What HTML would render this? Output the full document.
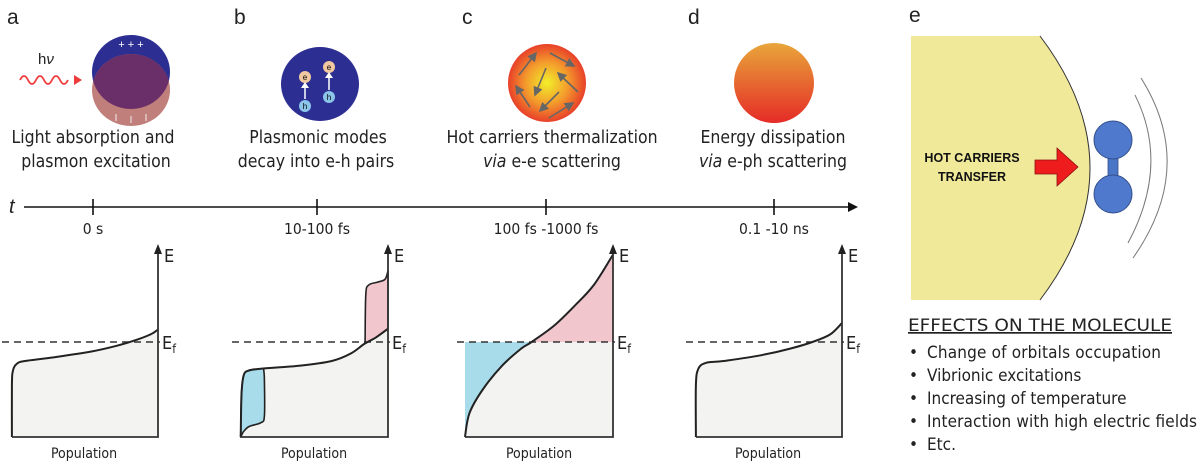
<!DOCTYPE html>
<html><head><meta charset="utf-8">
<style>
html,body{margin:0;padding:0;background:#fff;}
svg{display:block;font-family:"Liberation Sans",sans-serif;}
.lbl{font-size:21px;fill:#222;}
.cap{font-size:17.5px;fill:#222;text-anchor:middle;font-family:"DejaVu Sans Condensed","Liberation Sans",sans-serif;}
.tk{font-size:15.5px;fill:#222;text-anchor:middle;font-family:"DejaVu Sans Condensed","Liberation Sans",sans-serif;}
.pop{font-size:14px;fill:#222;text-anchor:middle;font-family:"DejaVu Sans Condensed","Liberation Sans",sans-serif;}
.ax{font-size:18px;fill:#222;font-family:"DejaVu Sans Condensed","Liberation Sans",sans-serif;}
.eff{font-size:17px;fill:#222;font-family:"DejaVu Sans Condensed","Liberation Sans",sans-serif;}
</style></head>
<body>
<svg id="fig" width="1200" height="464" viewBox="0 0 1200 464" xmlns="http://www.w3.org/2000/svg">
<defs>
 <radialGradient id="gc" cx="0.5" cy="0.5" r="0.5"><stop offset="0" stop-color="#f2ef2a"/><stop offset="0.55" stop-color="#f39a2c"/><stop offset="1" stop-color="#e8402a"/></radialGradient>
 <linearGradient id="gd" x1="0" y1="0" x2="0" y2="1"><stop offset="0" stop-color="#e8a63a"/><stop offset="1" stop-color="#e52b27"/></linearGradient>
 <clipPath id="blueclip"><ellipse cx="131" cy="72" rx="39" ry="37"/></clipPath>
 <marker id="ga" markerWidth="6" markerHeight="6" refX="5" refY="3" orient="auto"><path d="M0,0 L6,3 L0,6 z" fill="#666"/></marker>
</defs>

<text class="lbl" x="7" y="24">a</text>
<text class="lbl" x="234" y="24">b</text>
<text class="lbl" x="462" y="24">c</text>
<text class="lbl" x="688" y="24">d</text>
<text class="lbl" x="909" y="22">e</text>

<g>
 <text x="38" y="64" font-size="15" fill="#222">h<tspan font-style="italic">ν</tspan></text>
 <path d="M20,80 q4,-8 8,0 t8,0 t8,0 t8,0 t8,0 t8,0" fill="none" stroke="#ee3b3b" stroke-width="1.8"/>
 <path d="M74,75 L82,80 L74,85" fill="#ee3b3b"/>
 <ellipse cx="131" cy="72" rx="39" ry="37" fill="#2c2f91"/>
 <ellipse cx="131" cy="90" rx="39" ry="36" fill="#c07f7b"/>
 <ellipse cx="131" cy="90" rx="39" ry="36" fill="#6a2f68" clip-path="url(#blueclip)"/>
 <text x="131" y="48" font-size="11" fill="#fff" text-anchor="middle">+  +  +</text>
 <path d="M116,114v7M131,116v7M146,114v7" stroke="#eee" stroke-width="1"/>
</g>
<text class="cap" x="93" y="143">Light absorption and</text>
<text class="cap" x="96" y="167">plasmon excitation</text>

<g>
 <ellipse cx="320" cy="84" rx="39" ry="37" fill="#2c2f91"/>
 <circle cx="305" cy="77" r="6" fill="#f1c8a0"/><text x="305" y="80" font-size="8" text-anchor="middle">e</text>
 <circle cx="329" cy="67" r="6" fill="#f1c8a0"/><text x="329" y="70" font-size="8" text-anchor="middle">e</text>
 <circle cx="305" cy="106" r="6" fill="#8cc4ea"/><text x="305" y="109" font-size="8" text-anchor="middle">h</text>
 <circle cx="329" cy="97" r="6" fill="#8cc4ea"/><text x="329" y="100" font-size="8" text-anchor="middle">h</text>
 <path d="M305,99V86M329,90V76" stroke="#fff" stroke-width="1.5"/>
 <path d="M301,88l4,-6l4,6zM325,78l4,-6l4,6z" fill="#fff"/>
</g>
<text class="cap" x="318" y="143">Plasmonic modes</text>
<text class="cap" x="316" y="167">decay into e-h pairs</text>

<g stroke="#666" stroke-width="1.6" marker-end="url(#ga)">
 <circle cx="547" cy="83" r="39" fill="url(#gc)" stroke="none" marker-end="none"/>
 <path d="M519,75 L536,53"/><path d="M550,53 L574,66"/><path d="M578,92 L558,73"/>
 <path d="M546,68 L535,95"/><path d="M530,107 L516,86"/><path d="M559,92 L540,111"/>
 <path d="M549,118 L573,103"/>
</g>
<text class="cap" x="552" y="143">Hot carriers thermalization</text>
<text class="cap" x="552" y="167"><tspan font-style="italic">via</tspan> e-e scattering</text>

<ellipse cx="774" cy="83" rx="40" ry="40" fill="url(#gd)"/>
<text class="cap" x="773" y="143">Energy dissipation</text>
<text class="cap" x="773" y="167"><tspan font-style="italic">via</tspan> e-ph scattering</text>

<g>
 <text x="9" y="213" font-size="20" font-style="italic" fill="#222">t</text>
 <line x1="24" y1="207" x2="850" y2="207" stroke="#111" stroke-width="1.6"/>
 <path d="M848,202 L858,207 L848,212z" fill="#111"/>
</g>
<g id="ticks"></g>
<g id="plots"></g>

<g>
 <path d="M911,36 L1040,36 Q1140,168 1040,300 L911,300 Z" fill="#f0e99a"/>
 <path d="M1040,36 Q1140,168 1040,300" fill="none" stroke="#333" stroke-width="1"/>
 <text x="972" y="162" font-size="12.5" font-weight="bold" text-anchor="middle" fill="#111">HOT CARRIERS</text>
 <text x="972" y="181" font-size="12.5" font-weight="bold" text-anchor="middle" fill="#111">TRANSFER</text>
 <path d="M1035,160 H1057 V148 L1078,167 L1057,186 V174 H1035 Z" fill="#ee1c1c" stroke="#8a1010" stroke-width="0.8"/>
 <rect x="1108" y="140" width="10" height="55" fill="#4a76c8" stroke="#34508a" stroke-width="0.8"/>
 <ellipse cx="1113" cy="140" rx="19" ry="19" fill="#4f79cc" stroke="#34508a"/>
 <ellipse cx="1113" cy="194" rx="19" ry="19" fill="#4f79cc" stroke="#34508a"/>
 <path d="M1135,95 Q1170,165 1128,243" fill="none" stroke="#777" stroke-width="1"/>
 <path d="M1141,78 Q1197,167 1133,258" fill="none" stroke="#777" stroke-width="1"/>
</g>
<text class="eff" x="1040" y="331" text-anchor="middle" text-decoration="underline" font-size="21" textLength="264" lengthAdjust="spacingAndGlyphs">EFFECTS ON THE MOLECULE</text>
<g>
 <text class="eff" x="909" y="358">•</text><text class="eff" x="927" y="358" textLength="234">Change of orbitals occupation</text>
 <text class="eff" x="909" y="381">•</text><text class="eff" x="927" y="381">Vibrionic excitations</text>
 <text class="eff" x="909" y="404">•</text><text class="eff" x="927" y="404">Increasing of temperature</text>
 <text class="eff" x="909" y="427">•</text><text class="eff" x="927" y="427" textLength="270">Interaction with high electric fields</text>
 <text class="eff" x="909" y="450">•</text><text class="eff" x="927" y="450">Etc.</text>
</g>
</svg>
<script>
const tickLabels = ["0 s","10-100 fs","100 fs -1000 fs","0.1 -10 ns"];
const tickPos = [93,317,546,774];
const popA = [0.013,0.013,0.02,0.045,0.1,0.3,0.55,0.72,0.85,0.95,1.0];
const enA  = [-1,-0.45,-0.3,-0.23,-0.2,-0.16,-0.1,-0.04,0.02,0.08,0.13];
const popB = [0.005,0.01,0.025,0.06,0.15,0.4,0.62,0.75,0.84,0.92,1.0];
const enB  = [-1,-0.55,-0.35,-0.3,-0.28,-0.25,-0.2,-0.12,-0.02,0.05,0.14];
const holeEdgeB = [[0.16,-0.29],[0.165,-0.4],[0.165,-0.78],[0.14,-0.85],[0.06,-0.89],[0.02,-0.95]];
const elecEdgeB = [[0.845,0],[0.85,0.5],[0.87,0.6],[0.93,0.63],[0.98,0.66],[1.0,0.75]];
const popC = [0,0.03,0.12,0.25,0.38,0.45,0.6,0.74,0.87,1.0];
const enC  = [-1,-0.75,-0.5,-0.25,-0.07,0,0.17,0.38,0.6,0.92];
const popD = [0.013,0.013,0.03,0.08,0.2,0.45,0.65,0.8,0.92,1.0];
const enD  = [-1,-0.45,-0.28,-0.22,-0.2,-0.14,-0.07,0.0,0.08,0.2];

const NS="http://www.w3.org/2000/svg";
function mk(tag,attrs,parent){const e=document.createElementNS(NS,tag);for(const k in attrs)e.setAttribute(k,attrs[k]);parent.appendChild(e);return e;}
const ticks=document.getElementById('ticks');
tickLabels.forEach((t,i)=>{
  const l=mk('line',{x1:tickPos[i],x2:tickPos[i],y1:199,y2:215,stroke:'#111','stroke-width':1.6},ticks);
  
  
  const tx=mk('text',{x:tickPos[i],y:234,class:'tk'},ticks);tx.textContent=t;
  
  
});
const plots=document.getElementById('plots');
const BOT=437, EF=342, W=148;
function sy(e){return EF-e*95;}
function seg(pts){let d='';
  for(let i=0;i<pts.length-1;i++){const p0=pts[i-1]||pts[i],p1=pts[i],p2=pts[i+1],p3=pts[i+2]||p2;
    const c1=[p1[0]+(p2[0]-p0[0])/6,p1[1]+(p2[1]-p0[1])/6],c2=[p2[0]-(p3[0]-p1[0])/6,p2[1]-(p3[1]-p1[1])/6];
    d+=' C'+c1.map(v=>v.toFixed(1)).join(',')+' '+c2.map(v=>v.toFixed(1)).join(',')+' '+p2.map(v=>v.toFixed(1)).join(',');}
  return d;}
function smooth(pts){return 'M'+pts[0][0].toFixed(1)+','+pts[0][1].toFixed(1)+seg(pts);}
function panel(L,pop,en,name,extra){
  const g=mk('g',{},plots);
  
  
  const sx=p=>L+p*W;
  const pts=pop.map((p,i)=>[sx(p),sy(en[i])]);
  const c=smooth(pts);
  mk('path',{d:c+' L'+sx(1)+','+BOT+' L'+sx(pop[0])+','+BOT+'Z',fill:'#f3f3f1'},g);
  if(extra)extra(g,sx,pts);
  mk('line',{x1:L-8,x2:L+W+2,y1:EF,y2:EF,stroke:'#333','stroke-width':1.6,'stroke-dasharray':'7,5'},g);
  mk('path',{d:c,fill:'none',stroke:'#222','stroke-width':2},g);
  mk('path',{d:'M'+sx(pop[0])+','+sy(en[0])+' V'+BOT+' H'+sx(1)+' V248',fill:'none',stroke:'#333','stroke-width':1.8},g);
  mk('path',{d:'M'+(sx(1)-4)+',254 L'+sx(1)+',244 L'+(sx(1)+4)+',254z',fill:'#222'},g);
  let t=mk('text',{x:sx(1)+6,y:262,class:'ax'},g);t.textContent='E';
  t=mk('text',{x:sx(1)+4,y:EF+7,class:'ax'},g);t.innerHTML='E<tspan font-size="12" dy="4">f</tspan>';
  t=mk('text',{x:L+W/2,y:458,class:'pop'},g);t.textContent='Population';
}
panel(10,popA,enA,'distribution-plot-a');
panel(240,popB,enB,'distribution-plot-b',(g,sx,pts)=>{
  const s=a=>a.map(p=>[sx(p[0]),sy(p[1])]);
  const hp=pts.slice(0,5).concat([[sx(holeEdgeB[0][0]),sy(holeEdgeB[0][1])]]);
  const h=mk('path',{d:smooth(hp)+seg(s(holeEdgeB))+'Z',fill:'#a9dcea',stroke:'#222','stroke-width':1.6,'stroke-linejoin':'round'},g);
  
  
  const ep=s(elecEdgeB);
  const e=mk('path',{d:smooth(ep)+' L'+sx(1)+','+sy(enB[enB.length-1])+seg(pts.slice(8).reverse())+' L'+ep[0].join(',')+'Z',fill:'#f2c6cd',stroke:'#222','stroke-width':1.6},g);
  
  
});
panel(465,popC,enC,'distribution-plot-c',(g,sx,pts)=>{
  const k=enC.indexOf(0);
  const h=mk('path',{d:smooth(pts.slice(0,k+1))+' L'+sx(0)+','+EF+'Z',fill:'#a9dcea'},g);
  
  
  const e=mk('path',{d:smooth(pts.slice(k))+' L'+sx(1)+','+EF+'Z',fill:'#f2c6cd'},g);
  
  
});
panel(694,popD,enD,'distribution-plot-d');
</script>
</body></html>
